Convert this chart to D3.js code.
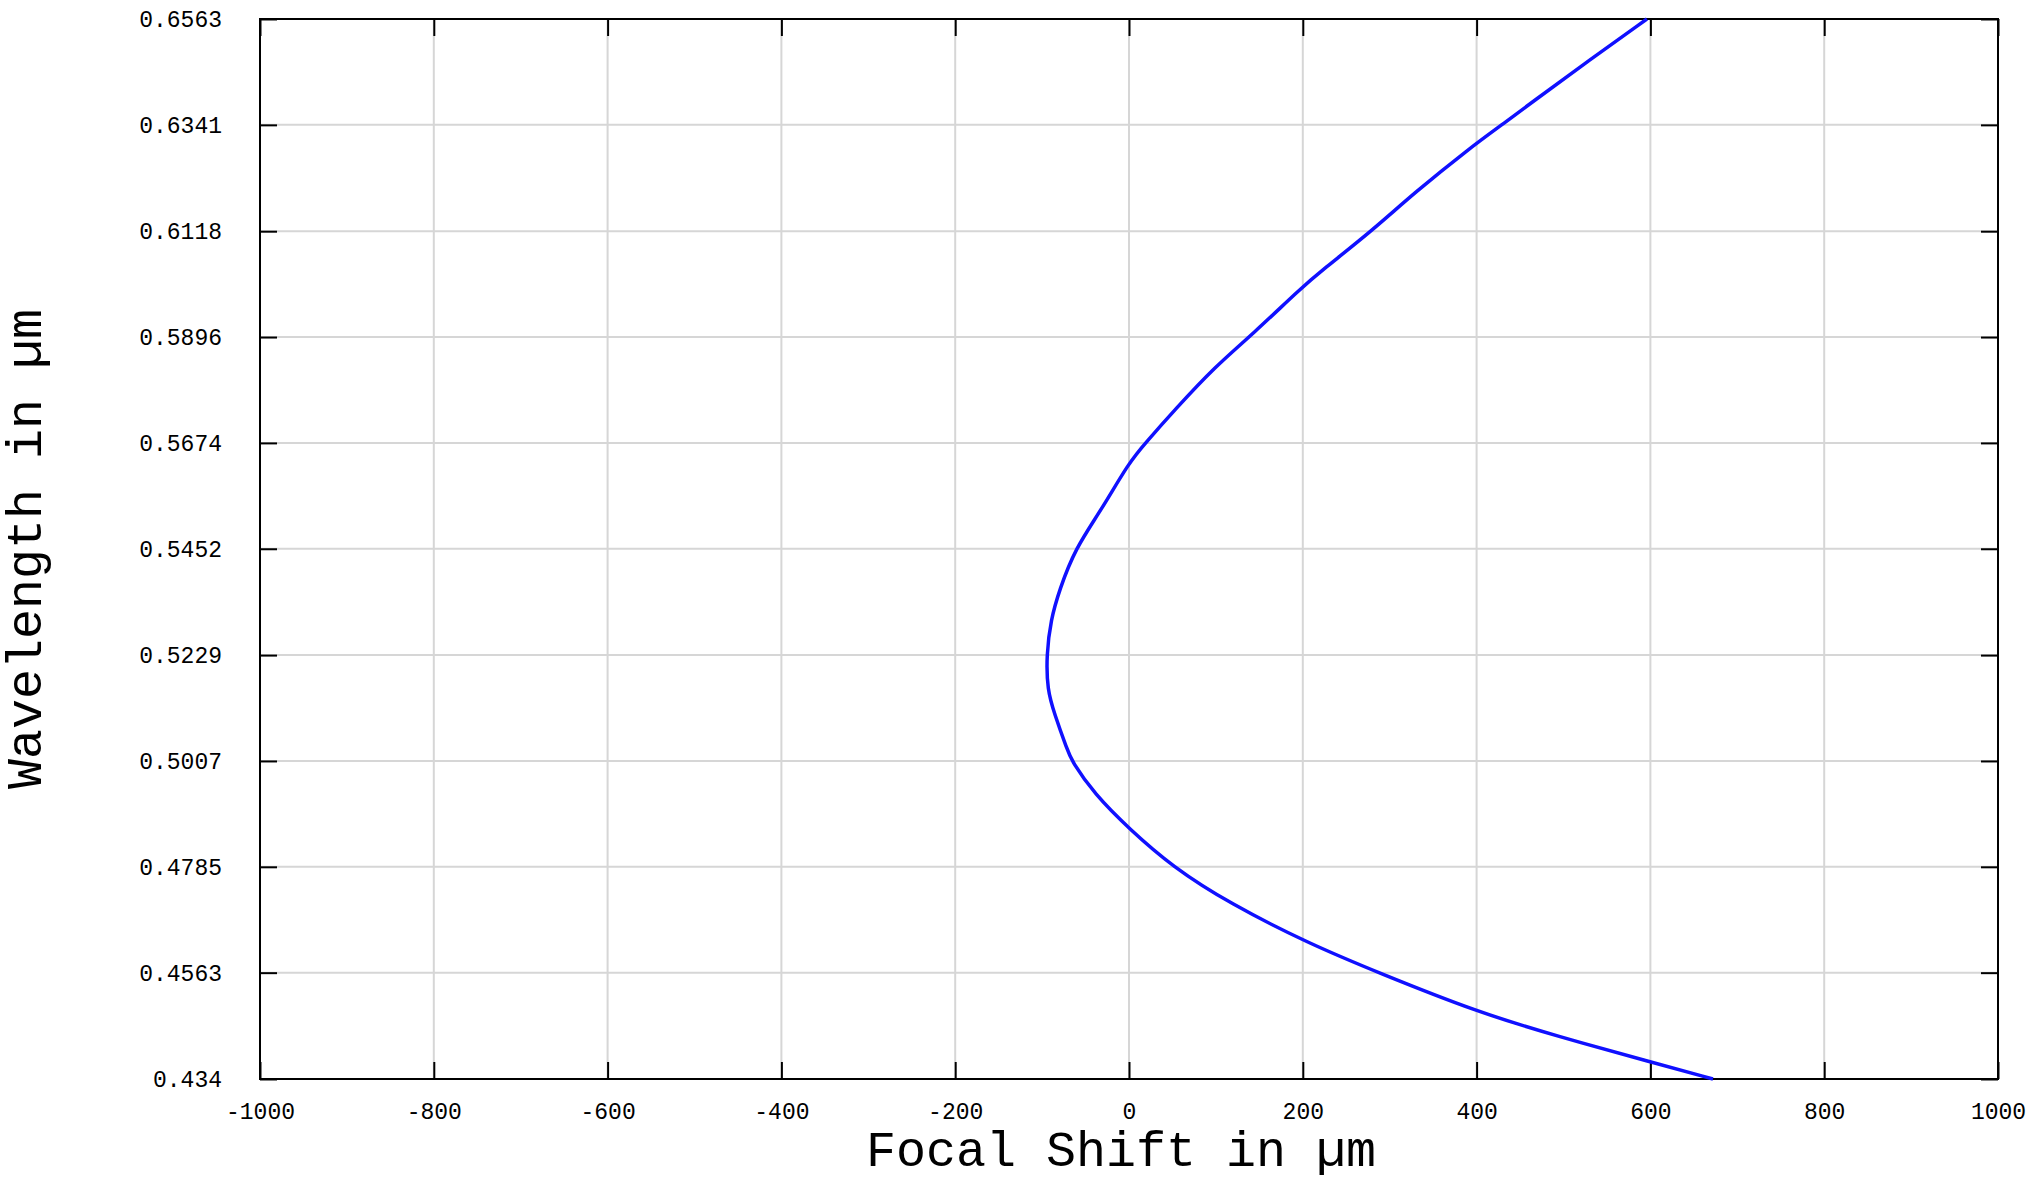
<!DOCTYPE html>
<html>
<head>
<meta charset="utf-8">
<script src="https://cdn.jsdelivr.net/npm/d3@7"></script>
<style>
    body { margin: 0; background: #fff; }
    svg { display: block; }
</style>
</head>
<body>
<div id="chart"></div>
<script>
// wavelength samples (µm), top to bottom
let wavelength = [0.6563, 0.6477, 0.6386, 0.6341, 0.6292, 0.6198, 0.6118, 0.6036, 0.5997, 0.5903,
    0.5834, 0.5744, 0.5674, 0.5633, 0.5533, 0.5452, 0.5366, 0.5303,
    0.5229, 0.5156, 0.5107, 0.5030, 0.5007, 0.4938, 0.4865, 0.4785, 0.4708,
    0.4624, 0.4563, 0.4481, 0.4429, 0.4376, 0.4340];

// focal shift (µm) at each wavelength
let focalShift = [596, 530, 462, 429, 392, 328, 279, 222, 197, 143,
    99, 53, 19, 0, -32, -62, -80, -90,
    -95, -94, -86, -71, -66, -40, 0, 50, 116,
    207, 287, 400, 494, 600, 672];

let yTicks = [0.434, 0.4563, 0.4785, 0.5007, 0.5229, 0.5452, 0.5674, 0.5896, 0.6118, 0.6341, 0.6563];
let yTickLabels = ["0.434", "0.4563", "0.4785", "0.5007", "0.5229", "0.5452", "0.5674", "0.5896", "0.6118", "0.6341", "0.6563"];
let xTicks = [-1000, -800, -600, -400, -200, 0, 200, 400, 600, 800, 1000];

let width = 2030;
let height = 1190;
let margin = { left: 260, right: 32, top: 19, bottom: 111 };
let plotW = width - margin.left - margin.right;
let plotH = height - margin.top - margin.bottom;
let tickLen = 17;
let mono = "'Liberation Mono', 'Courier New', monospace";

let svg = d3.select("#chart").append("svg")
    .attr("width", width)
    .attr("height", height);

let x = d3.scaleLinear().domain([-1000, 1000]).range([0, plotW]);
let y = d3.scaleLinear().domain([0.434, 0.6563]).range([plotH, 0]);

let g = svg.append("g")
    .attr("transform", `translate(${margin.left},${margin.top})`);

//grid
g.append("g")
    .selectAll("line")
    .data(xTicks.slice(1, -1))
    .enter()
    .append("line")
    .attr("x1", d => x(d)).attr("x2", d => x(d))
    .attr("y1", 0).attr("y2", plotH)
    .attr("stroke", "#d6d6d6")
    .attr("stroke-width", 2);

g.append("g")
    .selectAll("line")
    .data(yTicks.slice(1, -1))
    .enter()
    .append("line")
    .attr("y1", d => y(d)).attr("y2", d => y(d))
    .attr("x1", 0).attr("x2", plotW)
    .attr("stroke", "#d6d6d6")
    .attr("stroke-width", 2);

//axes with inward ticks on all four sides
let fmtY = (d, i) => yTickLabels[i];
let fmtX = d => String(d);

let axisB = g.append("g")
    .attr("transform", `translate(0,${plotH})`)
    .call(d3.axisBottom(x).tickValues(xTicks).tickSizeInner(-tickLen).tickSizeOuter(0).tickPadding(24).tickFormat(fmtX));

let axisT = g.append("g")
    .call(d3.axisTop(x).tickValues(xTicks).tickSizeInner(-tickLen).tickSizeOuter(0).tickFormat(""));

let axisL = g.append("g")
    .call(d3.axisLeft(y).tickValues(yTicks).tickSizeInner(-tickLen).tickSizeOuter(0).tickPadding(38).tickFormat(fmtY));

let axisR = g.append("g")
    .attr("transform", `translate(${plotW},0)`)
    .call(d3.axisRight(y).tickValues(yTicks).tickSizeInner(-tickLen).tickSizeOuter(0).tickFormat(""));

[axisB, axisT, axisL, axisR].forEach(a => {
    a.select(".domain").remove();
    a.selectAll(".tick line")
        .attr("stroke", "#000")
        .attr("stroke-width", 2);
    a.selectAll("text")
        .attr("fill", "#000")
        .style("font-family", mono)
        .style("font-size", "23px");
});

//frame
g.append("rect")
    .attr("x", 0).attr("y", 0)
    .attr("width", plotW).attr("height", plotH)
    .attr("fill", "none")
    .attr("stroke", "#000")
    .attr("stroke-width", 2);

//curve
let pts = wavelength.map((w, i) => [focalShift[i], w]);

g.append("path")
    .datum(pts)
    .attr("fill", "none")
    .attr("stroke", "#1010ff")
    .attr("stroke-width", 3.5)
    .attr("d", d3.line()
        .x(d => x(d[0]))
        .y(d => y(d[1]))
        .curve(d3.curveBasis));

//axis titles
svg.append("text")
    .attr("x", 1121)
    .attr("y", 1166)
    .attr("text-anchor", "middle")
    .style("font-family", mono)
    .style("font-size", "50px")
    .text("Focal Shift in µm");

svg.append("text")
    .attr("transform", `translate(41,${margin.top + plotH / 2}) rotate(-90)`)
    .attr("text-anchor", "middle")
    .style("font-family", mono)
    .style("font-size", "50px")
    .text("Wavelength in µm");
</script>
</body>
</html>
